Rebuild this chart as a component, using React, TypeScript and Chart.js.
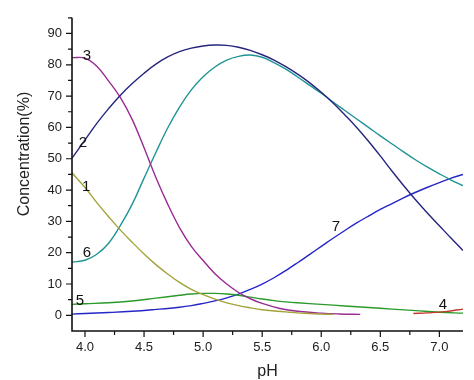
import React, { useEffect, useRef } from "react";
import { Chart, registerables } from "chart.js";

Chart.register(...registerables);

// Curve 1 (olive)
const pH1 = [3.89, 4.0, 4.1, 4.2, 4.3, 4.4, 4.5, 4.6, 4.7, 4.8, 4.9, 5.0, 5.1, 5.2, 5.3, 5.4, 5.5, 5.6, 5.7, 5.8, 5.9, 6.0, 6.1];
const c1 = [45.5, 40.8, 36.0, 31.5, 27.2, 23.3, 19.6, 16.2, 13.2, 10.5, 8.3, 6.6, 5.2, 4.0, 3.1, 2.4, 1.8, 1.4, 1.1, 0.8, 0.6, 0.4, 0.3];
// Curve 2 (navy)
const pH2 = [3.89, 4.0, 4.1, 4.2, 4.3, 4.4, 4.5, 4.6, 4.7, 4.8, 4.9, 5.0, 5.1, 5.2, 5.3, 5.4, 5.5, 5.6, 5.7, 5.8, 5.9, 6.0, 6.1, 6.2, 6.3, 6.4, 6.5, 6.6, 6.7, 6.8, 6.9, 7.0, 7.1, 7.2];
const c2 = [50.2, 56.0, 61.3, 66.0, 70.3, 74.0, 77.3, 80.2, 82.5, 84.2, 85.3, 86.0, 86.3, 86.2, 85.6, 84.6, 83.2, 81.5, 79.4, 77.0, 74.3, 71.2, 67.8, 64.0, 60.0, 55.6, 50.9, 46.0, 41.3, 36.8, 32.6, 28.6, 24.6, 20.7];
// Curve 3 (purple)
const pH3 = [3.89, 4.0, 4.1, 4.2, 4.3, 4.4, 4.5, 4.6, 4.7, 4.8, 4.9, 5.0, 5.1, 5.2, 5.3, 5.4, 5.5, 5.65, 5.8, 6.0, 6.15, 6.33];
const c3 = [82.3, 82.1, 79.5, 74.8, 69.5, 62.5, 53.5, 44.0, 35.5, 28.0, 22.0, 17.5, 13.3, 10.0, 7.3, 5.3, 3.8, 2.2, 1.3, 0.7, 0.45, 0.3];
// Curve 4 (red)
const pH4 = [6.78, 6.9, 7.05, 7.2];
const c4 = [0.6, 0.8, 1.2, 2.0];
// Curve 5 (green)
const pH5 = [3.89, 4.0, 4.2, 4.4, 4.6, 4.8, 4.9, 5.0, 5.1, 5.2, 5.3, 5.4, 5.5, 5.6, 5.7, 5.8, 6.0, 6.2, 6.4, 6.6, 6.8, 7.0, 7.2];
const c5 = [3.5, 3.7, 4.0, 4.6, 5.5, 6.4, 6.8, 7.0, 7.0, 6.8, 6.4, 5.8, 5.2, 4.7, 4.3, 4.0, 3.5, 3.0, 2.5, 2.0, 1.5, 1.0, 0.7];
// Curve 6 (teal)
const pH6 = [3.89, 4.0, 4.1, 4.2, 4.3, 4.4, 4.5, 4.6, 4.7, 4.8, 4.9, 5.0, 5.1, 5.2, 5.3, 5.4, 5.5, 5.6, 5.7, 5.8, 5.9, 6.0, 6.1, 6.2, 6.3, 6.4, 6.5, 6.6, 6.7, 6.8, 6.9, 7.0, 7.1, 7.2];
const c6 = [17.0, 17.6, 19.5, 23.0, 28.7, 35.5, 43.8, 52.0, 59.8, 66.5, 72.0, 76.2, 79.3, 81.5, 82.7, 83.1, 82.4, 80.7, 78.6, 76.1, 73.5, 70.9, 68.1, 65.4, 62.7, 60.0, 57.3, 54.7, 52.1, 49.6, 47.3, 45.2, 43.2, 41.4];
// Curve 7 (blue)
const pH7 = [3.89, 4.0, 4.2, 4.4, 4.6, 4.8, 4.9, 5.0, 5.1, 5.2, 5.3, 5.4, 5.5, 5.6, 5.7, 5.8, 5.9, 6.0, 6.1, 6.2, 6.3, 6.4, 6.5, 6.6, 6.7, 6.8, 6.9, 7.0, 7.1, 7.2];
const c7 = [0.4, 0.6, 0.9, 1.3, 1.9, 2.6, 3.1, 3.8, 4.6, 5.6, 6.8, 8.3, 10.0, 12.0, 14.3, 16.8, 19.4, 22.0, 24.6, 27.1, 29.5, 31.7, 33.8, 35.7, 37.6, 39.3, 40.9, 42.4, 43.8, 45.0];

const xTicks = [4.0, 4.5, 5.0, 5.5, 6.0, 6.5, 7.0];
const xMinor = [4.25, 4.75, 5.25, 5.75, 6.25, 6.75];
const yTicks = [0, 10, 20, 30, 40, 50, 60, 70, 80, 90];
const yMinor = [5, 15, 25, 35, 45, 55, 65, 75, 85, 95];

const curveNames = ["1", "2", "3", "4", "5", "6", "7"];
const curveLabelX = [4.01, 3.983, 4.017, 7.03, 3.958, 4.017, 6.125];
const curveLabelY = [41.0, 55.0, 82.7, 3.4, 4.6, 20.0, 28.3];

const FONT = '"Liberation Sans", Arial, Helvetica, sans-serif';

const series = [
  { x: pH1, y: c1, color: "#a3a33a" },
  { x: pH2, y: c2, color: "#25257f" },
  { x: pH3, y: c3, color: "#9a2a94" },
  { x: pH4, y: c4, color: "#c0392b" },
  { x: pH5, y: c5, color: "#2a9a2a" },
  { x: pH6, y: c6, color: "#1f9494" },
  { x: pH7, y: c7, color: "#2626c8" },
];

const decor = {
  id: "decor",
  afterDraw(chart: any) {
    const { ctx, chartArea: a } = chart;
    const xs = chart.scales.x;
    const ys = chart.scales.y;
    ctx.save();
    ctx.strokeStyle = "#111";
    ctx.lineWidth = 1.6;
    ctx.beginPath();
    ctx.moveTo(a.left, a.top);
    ctx.lineTo(a.left, a.bottom);
    ctx.lineTo(a.right, a.bottom);
    ctx.stroke();
    ctx.lineWidth = 1.2;
    ctx.beginPath();
    yTicks.forEach((v) => {
      const p = ys.getPixelForValue(v);
      ctx.moveTo(a.left - 6, p);
      ctx.lineTo(a.left, p);
    });
    yMinor.forEach((v) => {
      const p = ys.getPixelForValue(v);
      ctx.moveTo(a.left - 4, p);
      ctx.lineTo(a.left, p);
    });
    xTicks.forEach((v) => {
      const p = xs.getPixelForValue(v);
      ctx.moveTo(p, a.bottom);
      ctx.lineTo(p, a.bottom + 6);
    });
    xMinor.forEach((v) => {
      const p = xs.getPixelForValue(v);
      ctx.moveTo(p, a.bottom);
      ctx.lineTo(p, a.bottom + 4);
    });
    ctx.stroke();

    ctx.fillStyle = "#111";
    ctx.font = "15px " + FONT;
    ctx.textAlign = "center";
    ctx.textBaseline = "middle";
    curveNames.forEach((n, i) => {
      ctx.fillText(n, xs.getPixelForValue(curveLabelX[i]), ys.getPixelForValue(curveLabelY[i]));
    });

    ctx.font = "16px " + FONT;
    ctx.fillStyle = "#222";
    ctx.translate(25, 154);
    ctx.rotate(-Math.PI / 2);
    ctx.fillText("Concentration(%)", 0, 0);
    ctx.restore();
  },
};

export default function App() {
  const ref = useRef<HTMLCanvasElement | null>(null);
  useEffect(() => {
    document.body.style.margin = "0";
    const canvas = ref.current;
    if (!canvas) return;
    const chart = new Chart(canvas, {
      type: "line",
      data: {
        datasets: series.map((s, i) => ({
          label: curveNames[i],
          data: s.x.map((xv, j) => ({ x: xv, y: s.y[j] })),
          borderColor: s.color,
          backgroundColor: s.color,
          borderWidth: 1.4,
          pointRadius: 0,
          fill: false,
          tension: 0.4,
        })),
      },
      options: {
        animation: false,
        responsive: false,
        devicePixelRatio: 1,
        layout: { padding: { top: 15, right: 11, left: 0, bottom: 0 } },
        plugins: { legend: { display: false }, tooltip: { enabled: false } },
        scales: {
          x: {
            type: "linear",
            min: 3.89,
            max: 7.2,
            grid: { display: true, drawOnChartArea: false, drawTicks: false, color: "rgba(0,0,0,0)" },
            border: { display: false },
            afterBuildTicks: (sc: any) => {
              sc.ticks = xTicks.map((v) => ({ value: v }));
            },
            afterFit: (sc: any) => {
              sc.height = 49;
            },
            ticks: {
              padding: 9,
              color: "#222",
              font: { family: FONT, size: 13 },
              callback: (v: any) => Number(v).toFixed(1),
              maxRotation: 0,
              autoSkip: false,
            },
            title: {
              display: true,
              text: "pH",
              color: "#222",
              font: { family: FONT, size: 16, lineHeight: 1 },
              padding: { top: 0, bottom: 0 },
            },
          },
          y: {
            type: "linear",
            min: -5,
            max: 95,
            grid: { display: true, drawOnChartArea: false, drawTicks: false, color: "rgba(0,0,0,0)" },
            border: { display: false },
            afterBuildTicks: (sc: any) => {
              sc.ticks = yTicks.map((v) => ({ value: v }));
            },
            afterFit: (sc: any) => {
              sc.width = 72;
            },
            ticks: {
              padding: 10,
              color: "#222",
              font: { family: FONT, size: 13 },
              autoSkip: false,
            },
          },
        },
      },
      plugins: [decor],
    });
    return () => chart.destroy();
  }, []);
  return (
    <div style={{ width: 474, height: 380 }}>
      <canvas ref={ref} width={474} height={380} />
    </div>
  );
}
